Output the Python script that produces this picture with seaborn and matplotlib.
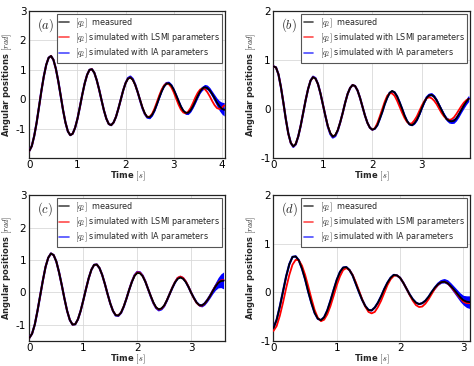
import numpy as np
import matplotlib
matplotlib.use("Agg")
import matplotlib.pyplot as plt
import seaborn as sns

dt = 0.05

m_a = [-1.75, -1.59, -1.25, -0.80, -0.26, 0.29, 0.78, 1.17, 1.41, 1.47,
       1.34, 1.04, 0.62, 0.13, -0.37, -0.79, -1.09, -1.22, -1.17, -0.97,
       -0.66, -0.26, 0.16, 0.54, 0.83, 1.00, 1.02, 0.90, 0.65, 0.33,
       -0.03, -0.38, -0.66, -0.84, -0.88, -0.79, -0.60, -0.32, -0.01, 0.30,
       0.55, 0.70, 0.74, 0.66, 0.49, 0.25, -0.02, -0.28, -0.48, -0.60,
       -0.61, -0.53, -0.38, -0.17, 0.06, 0.27, 0.44, 0.53, 0.54, 0.47,
       0.33, 0.14, -0.06, -0.25, -0.39, -0.46, -0.46, -0.38, -0.24, -0.07,
       0.11, 0.27, 0.37, 0.41, 0.38, 0.30, 0.18, 0.04, -0.11, -0.23,
       -0.32, -0.36]
lsmi_a = m_a[:40] + [
       0.55, 0.70, 0.74, 0.66, 0.49, 0.25, -0.02, -0.28, -0.49, -0.60,
       -0.59, -0.50, -0.32, -0.10, 0.13, 0.33, 0.47, 0.54, 0.51, 0.41,
       0.24, 0.03, -0.18, -0.35, -0.45, -0.48, -0.42, -0.30, -0.13, 0.06,
       0.22, 0.33, 0.37, 0.34, 0.24, 0.10, -0.06, -0.20, -0.30, -0.33,
       -0.29, -0.21]
ia_a = m_a[:40] + [
       0.55, 0.72, 0.77, 0.69, 0.50, 0.25, -0.03, -0.30, -0.50, -0.62,
       -0.64, -0.55, -0.39, -0.17, 0.06, 0.28, 0.45, 0.55, 0.56, 0.48,
       0.33, 0.14, -0.06, -0.25, -0.40, -0.47, -0.47, -0.39, -0.25, -0.08,
       0.10, 0.27, 0.38, 0.43, 0.40, 0.31, 0.18, 0.04, -0.10, -0.22,
       -0.30, -0.34]
ia_spread_a = [0.0] * 40 + [
       0.01, 0.01, 0.01, 0.01, 0.01, 0.015, 0.015, 0.015, 0.015, 0.015,
       0.02, 0.02, 0.02, 0.025, 0.025, 0.025, 0.03, 0.03, 0.03, 0.03,
       0.035, 0.035, 0.04, 0.04, 0.04, 0.045, 0.05, 0.05, 0.055, 0.06,
       0.06, 0.065, 0.07, 0.075, 0.08, 0.09, 0.10, 0.12, 0.14, 0.17,
       0.20, 0.23]

m_b = [0.87, 0.85, 0.71, 0.45, 0.13, -0.21, -0.50, -0.69, -0.76, -0.71,
       -0.56, -0.34, -0.08, 0.18, 0.41, 0.58, 0.65, 0.62, 0.51, 0.32,
       0.09, -0.14, -0.35, -0.49, -0.56, -0.53, -0.43, -0.27, -0.08, 0.13,
       0.31, 0.43, 0.49, 0.47, 0.38, 0.23, 0.05, -0.13, -0.28, -0.38,
       -0.42, -0.40, -0.33, -0.20, -0.06, 0.10, 0.23, 0.33, 0.37, 0.34,
       0.26, 0.14, 0.01, -0.13, -0.24, -0.31, -0.33, -0.29, -0.22, -0.11,
       0.02, 0.14, 0.23, 0.28, 0.29, 0.25, 0.18, 0.08, -0.02, -0.12,
       -0.20, -0.24, -0.25, -0.24, -0.19, -0.11, -0.02, 0.07, 0.15, 0.21]
lsmi_b = m_b[:41] + [
       -0.39, -0.29, -0.15, 0.00, 0.15, 0.27, 0.32, 0.32, 0.27,
       0.17, 0.05, -0.07, -0.18, -0.26, -0.30, -0.29, -0.23, -0.15, -0.04,
       0.07, 0.16, 0.22, 0.24, 0.22, 0.17, 0.10, 0.01, -0.08, -0.15,
       -0.20, -0.22, -0.21, -0.17, -0.10, -0.02, 0.06, 0.13, 0.18, 0.21]
ia_b = [0.87, 0.85, 0.71, 0.45, 0.13, -0.21, -0.50, -0.69, -0.77, -0.72,
        -0.56, -0.34, -0.08, 0.18, 0.41, 0.58, 0.66, 0.63, 0.51, 0.32,
        0.09, -0.14, -0.36, -0.51, -0.58, -0.55, -0.44, -0.27, -0.08, 0.13,
        0.31, 0.43, 0.49, 0.47, 0.38, 0.23, 0.05, -0.13, -0.28, -0.38,
        -0.42, -0.40, -0.33, -0.20, -0.06, 0.10, 0.23, 0.33, 0.36, 0.34,
        0.26, 0.14, 0.01, -0.13, -0.24, -0.31, -0.32, -0.29, -0.22, -0.11,
        0.02, 0.14, 0.24, 0.29, 0.30, 0.26, 0.18, 0.08, -0.02, -0.12,
        -0.20, -0.24, -0.25, -0.24, -0.19, -0.11, -0.02, 0.07, 0.15, 0.22]
ia_spread_b = [0.0] * 50 + [
       0.01, 0.01, 0.01, 0.015, 0.015, 0.015, 0.02, 0.02, 0.02, 0.02,
       0.025, 0.025, 0.025, 0.03, 0.03, 0.03, 0.035, 0.035, 0.035, 0.04,
       0.04, 0.045, 0.045, 0.05, 0.05, 0.055, 0.055, 0.06, 0.06, 0.065]

m_c = [-1.40, -1.27, -0.99, -0.57, -0.10, 0.37, 0.79, 1.07, 1.20, 1.15,
       0.95, 0.62, 0.23, -0.19, -0.57, -0.85, -0.99, -0.98, -0.83, -0.57,
       -0.24, 0.11, 0.44, 0.70, 0.85, 0.86, 0.75, 0.54, 0.26, -0.05,
       -0.34, -0.57, -0.70, -0.71, -0.62, -0.43, -0.19, 0.08, 0.32, 0.51,
       0.60, 0.59, 0.50, 0.33, 0.11, -0.11, -0.31, -0.46, -0.52, -0.49,
       -0.40, -0.24, -0.05, 0.14, 0.31, 0.42, 0.46, 0.42, 0.32, 0.17,
       -0.01, -0.17, -0.31, -0.39, -0.40, -0.34, -0.24, -0.11, 0.04, 0.18,
       0.29, 0.35, 0.36]
lsmi_c = m_c[:30] + [
       -0.34, -0.57, -0.70, -0.71, -0.62, -0.43, -0.19, 0.08, 0.33, 0.52,
       0.62, 0.61, 0.51, 0.34, 0.11, -0.11, -0.32, -0.47, -0.53, -0.50,
       -0.41, -0.24, -0.05, 0.15, 0.32, 0.45, 0.49, 0.45, 0.34, 0.18,
       -0.01, -0.18, -0.32, -0.40, -0.41, -0.35, -0.24, -0.11, 0.05, 0.19,
       0.30, 0.37, 0.38]
ia_c = m_c[:30] + [
       -0.34, -0.57, -0.71, -0.72, -0.63, -0.44, -0.19, 0.08, 0.33, 0.53,
       0.63, 0.62, 0.52, 0.34, 0.11, -0.12, -0.33, -0.48, -0.55, -0.52,
       -0.42, -0.25, -0.05, 0.14, 0.31, 0.44, 0.48, 0.44, 0.33, 0.17,
       -0.01, -0.17, -0.31, -0.39, -0.40, -0.34, -0.23, -0.10, 0.05, 0.19,
       0.30, 0.36, 0.37]
ia_spread_c = [0.0] * 50 + [
       0.01, 0.01, 0.01, 0.015, 0.015, 0.015, 0.02, 0.02, 0.025, 0.025,
       0.03, 0.03, 0.035, 0.04, 0.045, 0.05, 0.06, 0.07, 0.09, 0.12,
       0.16, 0.21, 0.26]

m_d = [-0.73, -0.56, -0.29, 0.02, 0.33, 0.58, 0.73, 0.74, 0.66, 0.49,
       0.27, 0.01, -0.22, -0.42, -0.54, -0.57, -0.51, -0.37, -0.17, 0.05,
       0.26, 0.42, 0.51, 0.52, 0.46, 0.35, 0.18, 0.01, -0.15, -0.28,
       -0.36, -0.37, -0.31, -0.21, -0.08, 0.07, 0.20, 0.30, 0.36, 0.35,
       0.30, 0.20, 0.08, -0.04, -0.14, -0.21, -0.24, -0.22, -0.17, -0.09,
       0.01, 0.10, 0.17, 0.21, 0.22, 0.19, 0.13, 0.06, -0.02, -0.10,
       -0.16, -0.19, -0.20]
lsmi_d = [-0.79, -0.69, -0.48, -0.21, 0.09, 0.36, 0.57, 0.67, 0.66, 0.55,
          0.36, 0.12, -0.13, -0.36, -0.52, -0.59, -0.56, -0.45, -0.28, -0.07,
          0.15, 0.33, 0.46, 0.50, 0.46, 0.36, 0.21, 0.04, -0.14, -0.29,
          -0.40, -0.43, -0.40, -0.30, -0.17, -0.01, 0.15, 0.27, 0.34, 0.35,
          0.30, 0.20, 0.08, -0.05, -0.17, -0.26, -0.30, -0.29, -0.23, -0.14,
          -0.03, 0.08, 0.16, 0.21, 0.22, 0.19, 0.12, 0.04, -0.04, -0.12,
          -0.19, -0.22, -0.22]
ia_d = m_d[:52] + [0.18, 0.23, 0.24, 0.21, 0.14, 0.06, -0.02, -0.10,
                   -0.16, -0.19, -0.20]
ia_spread_d = [0.0] * 49 + [
       0.01, 0.02, 0.03, 0.035, 0.04, 0.045, 0.05, 0.06, 0.07, 0.08,
       0.09, 0.10, 0.12, 0.13]

panel_tags = ["(a)", "(b)", "(c)", "(d)"]
x_max = [4.07, 3.97, 3.63, 3.10]
y_lims = [(-2, 3), (-1, 2), (-1.5, 3), (-1, 2)]
y_ticks = [[-1, 0, 1, 2, 3], [-1, 0, 1, 2], [-1, 0, 1, 2, 3], [-1, 0, 1, 2]]
x_ticks = [[0, 1, 2, 3, 4], [0, 1, 2, 3], [0, 1, 2, 3], [0, 1, 2, 3]]

measured = [m_a, m_b, m_c, m_d]
lsmi = [lsmi_a, lsmi_b, lsmi_c, lsmi_d]
ia = [ia_a, ia_b, ia_c, ia_d]
ia_spread = [ia_spread_a, ia_spread_b, ia_spread_c, ia_spread_d]

sns.set_style("whitegrid", {"grid.color": "#d9d9d9", "axes.edgecolor": "#222222",
                            "xtick.direction": "in", "ytick.direction": "in"})
plt.rcParams["font.family"] = ["DejaVu Sans"]
plt.rcParams["axes.unicode_minus"] = False
plt.rcParams["mathtext.fontset"] = "cm"

fig = plt.figure(figsize=(4.74, 3.66), dpi=100)
rects = [[0.062, 0.568, 0.413, 0.402], [0.577, 0.568, 0.414, 0.402],
         [0.062, 0.068, 0.413, 0.399], [0.577, 0.068, 0.414, 0.399]]

for i in range(4):
    ax = fig.add_axes(rects[i])
    n = len(measured[i])
    t = np.arange(n) * dt
    c = np.array(ia[i])
    s = np.array(ia_spread[i])

    ax.fill_between(t, c - s, c + s, color="#0000ff", lw=0, zorder=2)
    sns.lineplot(x=t, y=c, color="#0000ff", lw=1.6, ax=ax, sort=False,
                 estimator=None, zorder=3)
    sns.lineplot(x=t, y=lsmi[i], color="#ff0000", lw=1.3, ax=ax, sort=False,
                 estimator=None, zorder=4)
    sns.lineplot(x=t, y=measured[i], color="black", lw=1.3, ax=ax, sort=False,
                 estimator=None, zorder=5)

    ax.set_xlim(0, x_max[i])
    ax.set_ylim(*y_lims[i])
    ax.set_xticks(x_ticks[i])
    ax.set_yticks(y_ticks[i])
    ax.tick_params(labelsize=7.5, length=3, width=0.6, colors="black")
    ax.tick_params(axis="x", pad=1.2)
    ax.tick_params(axis="y", pad=2.2)
    ax.grid(True, lw=0.6)
    for sp in ax.spines.values():
        sp.set_linewidth(0.9)

    ax.set_xlabel(r"Time $[s]$", fontsize=6, fontweight="bold", labelpad=0)
    ax.set_ylabel(r"Angular positions $[rad]$", fontsize=6, fontweight="bold", labelpad=1.5)

    ax.text(0.04, 0.905, "$" + panel_tags[i] + "$", transform=ax.transAxes,
            fontsize=9, ha="left", va="center", zorder=8)

    handles = [plt.Line2D([], [], color="black", lw=1.2, alpha=0.7),
               plt.Line2D([], [], color="#ff0000", lw=1.2, alpha=0.7),
               plt.Line2D([], [], color="#0000ff", lw=1.2, alpha=0.7)]
    labels = [r"$[q_2]$  measured",
              r"$[q_2]$ simulated with LSMI parameters",
              r"$[q_2]$ simulated with IA parameters"]
    leg = ax.legend(handles, labels, loc="upper right", fontsize=5.8,
                    frameon=True, fancybox=False, framealpha=1,
                    edgecolor="#555555", handlelength=1.2, handletextpad=0.8,
                    borderpad=0.3, labelspacing=0.25, borderaxespad=0.35)
    leg.get_frame().set_linewidth(0.8)
    leg.set_zorder(7)

fig.savefig("out.png", dpi=100)
